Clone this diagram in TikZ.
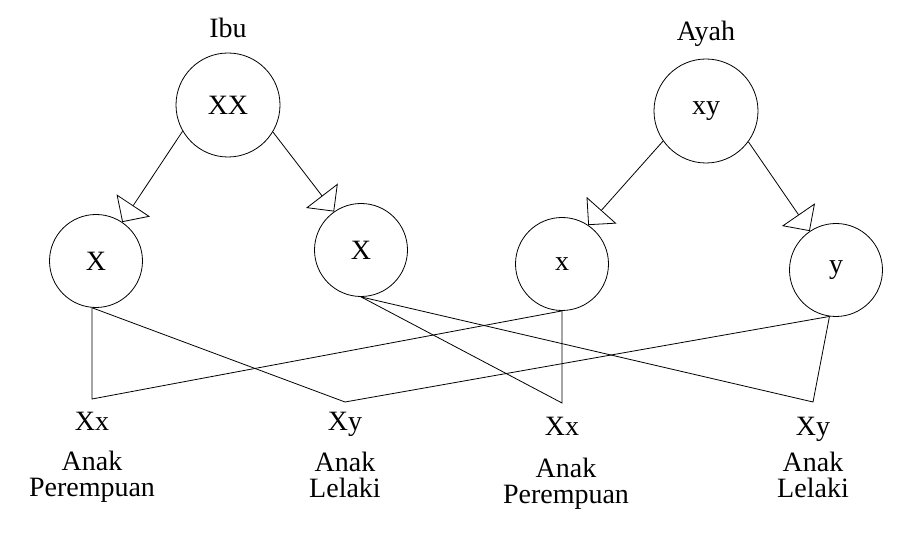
\documentclass[tikz,border=0pt]{standalone}
\usepackage{fontspec}
\setmainfont{Liberation Serif}
\usepackage{tikz}
\usetikzlibrary{arrows.meta, positioning}
\newcommand{\bigtext}{\fontsize{28}{26}\selectfont}

\begin{document}
\begin{tikzpicture}[
        x=1pt, y=1pt, line width=0.8pt,
        parent/.style={draw, circle, minimum size=104pt, inner sep=0pt,
                       font=\bigtext},
        gamet/.style={draw, circle, minimum size=93pt, inner sep=0pt,
                      font=\bigtext},
        lbl/.style={inner sep=0pt, font=\bigtext, align=center},
        arr/.style={-{Triangle[open, length=20pt, width=40pt]}},
      ]
        \useasboundingbox (0,0) rectangle (911,537);

        % orang tua
        \node[parent] (ibu)  at (228,432) {XX};
        \node[parent] (ayah) at (706,426) {xy};
        \node[lbl, above=14pt of ibu]  (tIbu)  {Ibu};
        \node[lbl, above=12pt of ayah] (tAyah) {Ayah};

        % gamet
        \node[gamet] (ibuX1) at (96,276)  {X};
        \node[gamet] (ibuX2) at (361,287) {X};
        \node[gamet] (ayahx) at (562,273) {x};
        \node[gamet] (ayahy) at (836,267) {y};

        \draw[arr] (ibu.210)  -- (ibuX1.56);
        \draw[arr] (ibu.329)  -- (ibuX2.125);
        \draw[arr] (ayah.215) -- (ayahx.56);
        \draw[arr] (ayah.324) -- (ayahy.124);

        % anak
        \coordinate (c1) at (92,138);
        \coordinate (c2) at (345,135);
        \coordinate (c3) at (562,134);
        \coordinate (c4) at (813,135);

        \draw (ibuX1.265)   -- (c1) -- (ayahx.south);
        \draw (ibuX1.265)   -- (c2) -- (ayahy.262);
        \draw (ibuX2.south) -- (c3) -- (ayahx.south);
        \draw (ibuX2.south) -- (c4) -- (ayahy.262);

        \node[lbl, below=13pt of c1] (anak1) {Xx};
        \node[lbl, below=10pt of c2] (anak2) {Xy};
        \node[lbl, below=14pt of c3] (anak3) {Xx};
        \node[lbl, below=15pt of c4] (anak4) {Xy};

        \node[lbl, below=20pt of anak1] (jk1) {Anak\\Perempuan};
        \node[lbl, below=15pt of anak2] (jk2) {Anak\\Lelaki};
        \node[lbl, below=22pt of anak3, xshift=4pt] (jk3) {Anak\\Perempuan};
        \node[lbl, below=10pt of anak4] (jk4) {Anak\\Lelaki};
      \end{tikzpicture}
\end{document}
